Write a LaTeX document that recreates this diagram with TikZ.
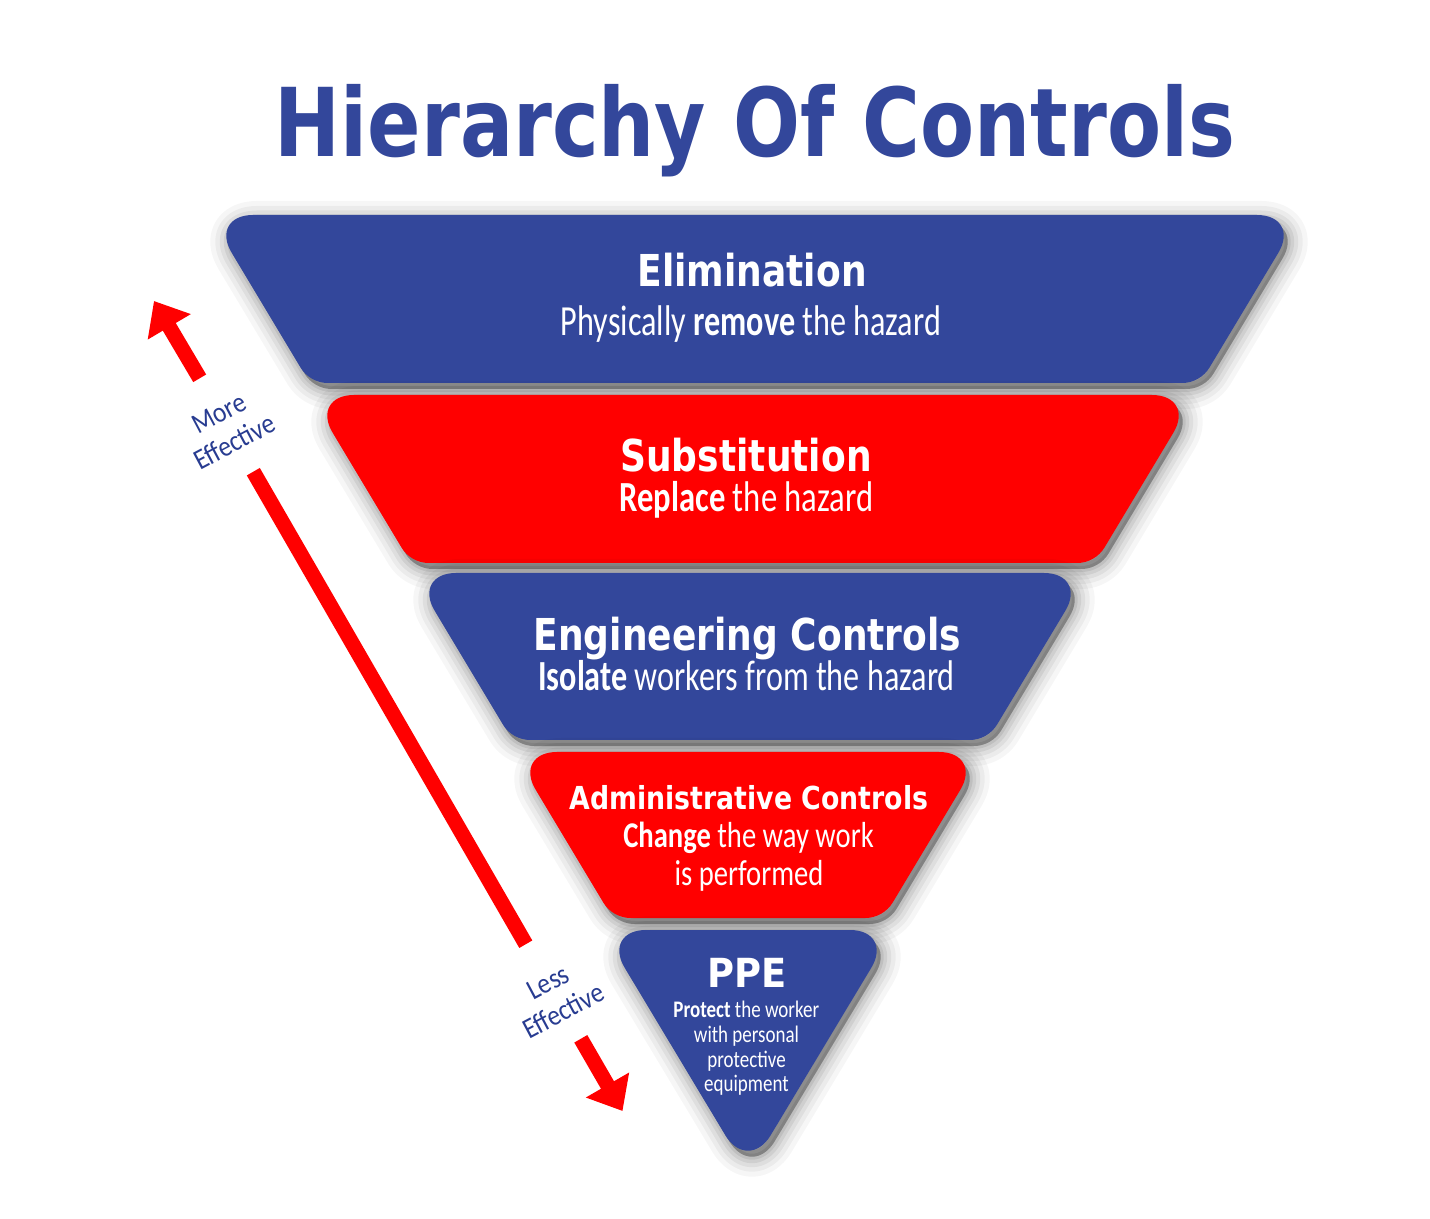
\documentclass[tikz,border=0pt]{standalone}
\usepackage{fontspec}
\usepackage{graphicx}
\usetikzlibrary{calc,arrows.meta}
\newfontfamily\headfont{DejaVu Sans}
\newfontfamily\bodyfont{Carlito}
\definecolor{hblue}{RGB}{51,71,155}
\definecolor{hred}{RGB}{255,0,0}
\definecolor{lblue}{RGB}{40,60,145}
\newcommand\hsq[2]{\scalebox{#1}[1]{#2}}
\newcommand\acorner[3]{-- ($(#2)!0.44cm!(#1)$) .. controls ($(#2)!0.2cm!(#1)$) and ($(#2)!0.2cm!(#3)$) .. ($(#2)!0.44cm!(#3)$)}
\newcommand\ocorner[3]{-- ($(#2)!0.18cm!(#1)$) .. controls ($(#2)!0.07cm!(#1)$) and ($(#2)!0.07cm!(#3)$) .. ($(#2)!0.18cm!(#3)$)}
\begin{document}
\begin{tikzpicture}[x=0.01cm,y=-0.01cm,
  shl/.style 2 args={preaction={draw=black,fill=black,opacity=#2,line width=#1,line join=round,transform canvas={xshift=0.04cm,yshift=-0.06cm}}},
  band/.style={shl={0.40cm}{0.035},shl={0.30cm}{0.045},shl={0.21cm}{0.055},shl={0.13cm}{0.065},shl={0.06cm}{0.075},
    preaction={fill=black,opacity=0.08,transform canvas={xshift=0.04cm,yshift=-0.06cm}}},
  txt/.style={text=white,inner sep=0pt,anchor=base},
  hd/.style={font=\headfont\bfseries\fontsize{12.5}{14}\selectfont},
  bd/.style={font=\bodyfont\fontsize{12.2}{14}\selectfont},
  effarrow/.style={draw=hred,line width=0.15cm,-{Triangle[length=0.3cm,width=0.48cm]}},
  effline/.style={draw=hred,line width=0.15cm},
  efflabel/.style={text=lblue,font=\bodyfont\fontsize{8.2}{9.3}\selectfont,align=center,rotate=28,inner sep=0pt}
]
\useasboundingbox (0,0) rectangle (1430,1219);
\fill[white] (0,0) rectangle (1430,1219);

% corner coordinates
\coordinate (e1) at (209,215);   \coordinate (e2) at (1301,215);
\coordinate (e3) at (1200.2,383); \coordinate (e4) at (309.8,383);
\coordinate (s1) at (310,395);   \coordinate (s2) at (1196,395);
\coordinate (s3) at (1095.2,563); \coordinate (s4) at (410.8,563);
\coordinate (g1) at (412,573);   \coordinate (g2) at (1088,573);
\coordinate (g3) at (987.8,740); \coordinate (g4) at (512.2,740);
\coordinate (a1) at (513,752);   \coordinate (a2) at (983,752);
\coordinate (a3) at (883.4,918); \coordinate (a4) at (612.6,918);
\coordinate (p1) at (602,930);   \coordinate (p2) at (894,930);
\coordinate (p3) at (748,1173);

% bands
\fill[hblue,band] ($(e1)!0.5!(e2)$) \acorner{e1}{e2}{e3} \ocorner{e2}{e3}{e4} \ocorner{e3}{e4}{e1} \acorner{e4}{e1}{e2} -- cycle;
\fill[hred,band] ($(s1)!0.5!(s2)$) \acorner{s1}{s2}{s3} \ocorner{s2}{s3}{s4} \ocorner{s3}{s4}{s1} \acorner{s4}{s1}{s2} -- cycle;
\fill[hblue,band] ($(g1)!0.5!(g2)$) \acorner{g1}{g2}{g3} \ocorner{g2}{g3}{g4} \ocorner{g3}{g4}{g1} \acorner{g4}{g1}{g2} -- cycle;
\fill[hred,band] ($(a1)!0.5!(a2)$) \acorner{a1}{a2}{a3} \ocorner{a2}{a3}{a4} \ocorner{a3}{a4}{a1} \acorner{a4}{a1}{a2} -- cycle;
\fill[hblue,band] ($(p1)!0.5!(p2)$) \acorner{p1}{p2}{p3} \acorner{p2}{p3}{p1} \acorner{p3}{p1}{p2} -- cycle;

% title
\node[txt,text=hblue,font=\headfont\bfseries\fontsize{27}{30}\selectfont] (title) at (755,157) {\hsq{0.83}{Hierarchy Of Controls}};

% band texts
\node[txt,hd] (elimH) at (752,287) {\hsq{0.82}{Elimination}};
\node[txt,bd] (elimB) at (751,336) {\hsq{0.75}{Physically \textbf{remove} the hazard}};
\node[txt,hd] (subH) at (746,472) {\hsq{0.82}{Substitution}};
\node[txt,bd] (subB) at (746.5,512) {\hsq{0.76}{\textbf{Replace} the hazard}};
\node[txt,hd] (engH) at (747.5,651) {\hsq{0.82}{Engineering Controls}};
\node[txt,bd] (engB) at (746.5,691) {\hsq{0.75}{\textbf{Isolate} workers from the hazard}};
\node[txt,font=\headfont\bfseries\fontsize{9}{10}\selectfont] (admH) at (749,810) {\hsq{0.845}{Administrative Controls}};
\node[txt,font=\bodyfont\fontsize{10.3}{12}\selectfont] (admB1) at (748.5,847) {\hsq{0.79}{\textbf{Change} the way work}};
\node[txt,font=\bodyfont\fontsize{10.3}{12}\selectfont] (admB2) at (749,886) {\hsq{0.79}{is performed}};
\node[txt,font=\headfont\bfseries\fontsize{11.4}{13}\selectfont] (ppeH) at (747,987) {\hsq{0.92}{PPE}};
\node[txt,font=\bodyfont\fontsize{6.75}{8}\selectfont] (ppe1) at (746.3,1017) {\hsq{0.8}{\textbf{Protect} the worker}};
\node[txt,font=\bodyfont\fontsize{6.75}{8}\selectfont] (ppe2) at (746.5,1042) {\hsq{0.8}{with personal}};
\node[txt,font=\bodyfont\fontsize{6.75}{8}\selectfont] (ppe3) at (746.5,1067) {\hsq{0.8}{protective}};
\node[txt,font=\bodyfont\fontsize{6.75}{8}\selectfont] (ppe4) at (746.5,1091) {\hsq{0.8}{equipment}};

% effectiveness arrow
\coordinate (u0) at (199.7,378.3); \coordinate (u1) at (154,301);
\coordinate (m0) at (253.3,471.7); \coordinate (m1) at (525.8,944.2);
\coordinate (l0) at (580.8,1038.8); \coordinate (l1) at (622.5,1111);
\draw[effarrow] (u0) -- (u1);
\draw[effline] (m0) -- (m1);
\draw[effarrow] (l0) -- (l1);
\node[efflabel] (more) at (227,428) {\hsq{0.88}{More}\\\hsq{0.88}{Effective}};
\node[efflabel] (less) at (556,997) {\hsq{0.88}{Less}\\\hsq{0.88}{Effective}};
\end{tikzpicture}
\end{document}
